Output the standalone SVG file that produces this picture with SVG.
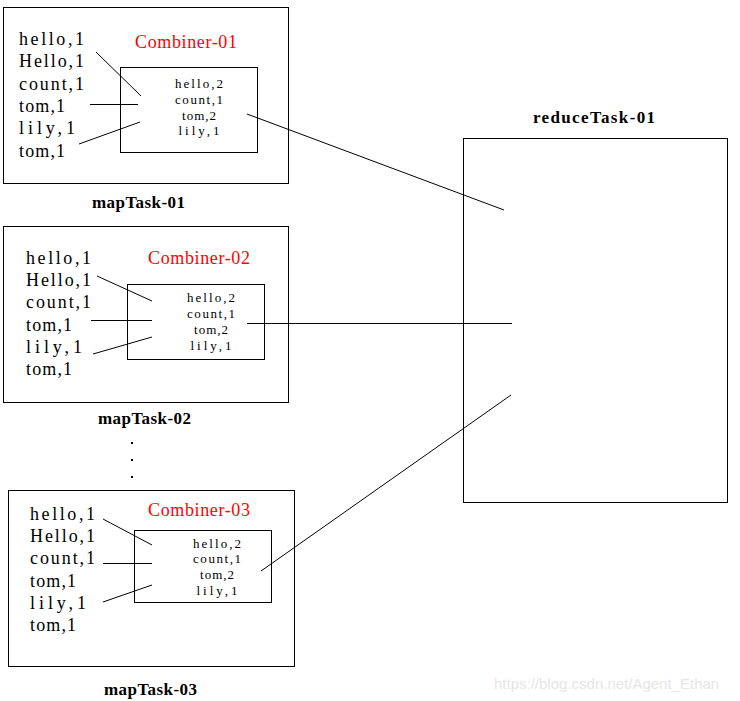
<svg xmlns="http://www.w3.org/2000/svg" width="740" height="701" viewBox="0 0 740 701">
<style>
.box{fill:none;stroke:#000;stroke-width:1}
.ln{stroke:#000;stroke-width:1;fill:none}
.w{font-family:"Liberation Serif",serif;font-size:18px;fill:#000}
.c{font-family:"Liberation Serif",serif;font-size:18px;fill:#ff0000}
.s{font-family:"Liberation Serif",serif;font-size:13px;fill:#000;text-anchor:middle}
.t{font-family:"Liberation Serif",serif;font-size:17px;font-weight:bold;fill:#000}
.wm{font-family:"Liberation Sans",sans-serif;font-size:15px;fill:#e6e6e6}
</style>
<rect width="740" height="701" fill="#fff"/>
<g id="mapTask-01">
<rect class="box" x="3.5" y="7.5" width="285" height="176"/>
<text class="w" x="19" y="45" textLength="65" lengthAdjust="spacing">hello,1</text>
<text class="w" x="19" y="67" textLength="65" lengthAdjust="spacing">Hello,1</text>
<text class="w" x="19" y="90" textLength="65" lengthAdjust="spacing">count,1</text>
<text class="w" x="19" y="112" textLength="46" lengthAdjust="spacing">tom,1</text>
<text class="w" x="19" y="134" textLength="56" lengthAdjust="spacing">lily,1</text>
<text class="w" x="19" y="157" textLength="46" lengthAdjust="spacing">tom,1</text>
<text class="c" x="135" y="48" textLength="102" lengthAdjust="spacing">Combiner-01</text>
<text class="t" x="92" y="208" textLength="93" lengthAdjust="spacing">mapTask-01</text>
</g>
<g id="combiner-01">
<rect class="box" x="120.5" y="67.5" width="137" height="85"/>
<text class="s" x="199" y="88" textLength="48" lengthAdjust="spacing">hello,2</text>
<text class="s" x="199" y="104" textLength="48" lengthAdjust="spacing">count,1</text>
<text class="s" x="199" y="120" textLength="34" lengthAdjust="spacing">tom,2</text>
<text class="s" x="199" y="135" textLength="41" lengthAdjust="spacing">lily,1</text>
</g>
<g id="mapTask-02">
<rect class="box" x="3.5" y="226.5" width="285" height="176"/>
<text class="w" x="26" y="264" textLength="65" lengthAdjust="spacing">hello,1</text>
<text class="w" x="26" y="286" textLength="65" lengthAdjust="spacing">Hello,1</text>
<text class="w" x="26" y="308" textLength="65" lengthAdjust="spacing">count,1</text>
<text class="w" x="26" y="331" textLength="46" lengthAdjust="spacing">tom,1</text>
<text class="w" x="26" y="353" textLength="56" lengthAdjust="spacing">lily,1</text>
<text class="w" x="26" y="375" textLength="46" lengthAdjust="spacing">tom,1</text>
<text class="c" x="148" y="264" textLength="102" lengthAdjust="spacing">Combiner-02</text>
<text class="t" x="98" y="424" textLength="93" lengthAdjust="spacing">mapTask-02</text>
</g>
<g id="combiner-02">
<rect class="box" x="127.5" y="284.5" width="137" height="75"/>
<text class="s" x="211" y="302" textLength="48" lengthAdjust="spacing">hello,2</text>
<text class="s" x="211" y="318" textLength="48" lengthAdjust="spacing">count,1</text>
<text class="s" x="211" y="334" textLength="34" lengthAdjust="spacing">tom,2</text>
<text class="s" x="211" y="350" textLength="41" lengthAdjust="spacing">lily,1</text>
</g>
<g id="dots">
<rect x="131" y="442" width="2" height="2" fill="#000"/>
<rect x="131" y="459" width="2" height="2" fill="#000"/>
<rect x="131" y="476" width="2" height="2" fill="#000"/>
</g>
<g id="mapTask-03">
<rect class="box" x="8.5" y="490.5" width="286" height="176"/>
<text class="w" x="30" y="520" textLength="65" lengthAdjust="spacing">hello,1</text>
<text class="w" x="30" y="542" textLength="65" lengthAdjust="spacing">Hello,1</text>
<text class="w" x="30" y="564" textLength="65" lengthAdjust="spacing">count,1</text>
<text class="w" x="30" y="587" textLength="46" lengthAdjust="spacing">tom,1</text>
<text class="w" x="30" y="609" textLength="56" lengthAdjust="spacing">lily,1</text>
<text class="w" x="30" y="631" textLength="46" lengthAdjust="spacing">tom,1</text>
<text class="c" x="148" y="516" textLength="102" lengthAdjust="spacing">Combiner-03</text>
<text class="t" x="104" y="695" textLength="93" lengthAdjust="spacing">mapTask-03</text>
</g>
<g id="combiner-03">
<rect class="box" x="134.5" y="530.5" width="137" height="72"/>
<text class="s" x="217" y="548" textLength="48" lengthAdjust="spacing">hello,2</text>
<text class="s" x="217" y="563" textLength="48" lengthAdjust="spacing">count,1</text>
<text class="s" x="217" y="579" textLength="34" lengthAdjust="spacing">tom,2</text>
<text class="s" x="217" y="595" textLength="41" lengthAdjust="spacing">lily,1</text>
</g>
<g id="reduceTask-01">
<rect class="box" x="463.5" y="138.5" width="264" height="364"/>
<text class="t" x="533" y="123" textLength="122" lengthAdjust="spacing">reduceTask-01</text>
</g>
<g id="connectors">
<line class="ln" x1="96" y1="52" x2="141" y2="96"/>
<line class="ln" x1="90" y1="104.5" x2="138" y2="104.5"/>
<line class="ln" x1="79" y1="144" x2="140" y2="122"/>
<line class="ln" x1="247" y1="114" x2="504" y2="210"/>
<line class="ln" x1="97" y1="276" x2="152" y2="301"/>
<line class="ln" x1="91" y1="320.5" x2="152" y2="320.5"/>
<line class="ln" x1="93" y1="354" x2="152" y2="337"/>
<line class="ln" x1="247" y1="323.5" x2="512" y2="323.5"/>
<line class="ln" x1="103" y1="519" x2="152" y2="545"/>
<line class="ln" x1="103" y1="563.5" x2="152" y2="563.5"/>
<line class="ln" x1="103" y1="602" x2="152" y2="585"/>
<line class="ln" x1="261" y1="571" x2="511" y2="395"/>
</g>
<text class="wm" x="494" y="689">https://blog.csdn.net/Agent_Ethan</text>
</svg>
